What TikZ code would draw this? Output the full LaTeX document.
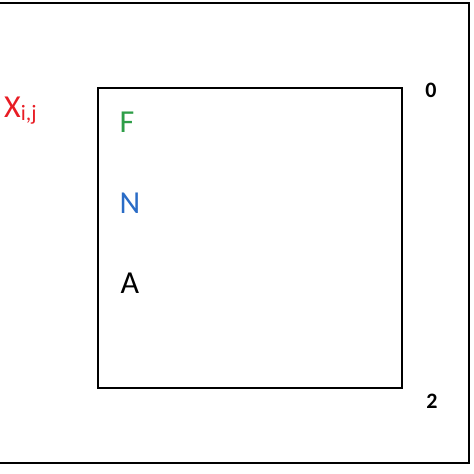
\documentclass[tikz,border=0pt]{standalone}
\usepackage{fontspec}
\setmainfont{Carlito}
\definecolor{xred}{HTML}{E81C24}
\definecolor{fgreen}{HTML}{2E9E48}
\definecolor{nblue}{HTML}{2A6CC6}
\begin{document}
\begin{tikzpicture}[x=1pt,y=-1pt,
  frame/.style={draw=black,line width=2pt},
  lbl/.style={inner sep=0pt,font=\fontsize{32}{36}\selectfont},
  num/.style={inner sep=0pt,font=\bfseries\fontsize{22}{24}\selectfont}]
\useasboundingbox (0,0) rectangle (474,474);
\begin{scope}
\clip (0,0) rectangle (474,474);
\draw[frame] (-20,3) rectangle (469,463);
\end{scope}
\node[frame,minimum width=304pt,minimum height=300pt,inner sep=0pt] (box) at (250,238) {};
\node[lbl,text=xred,anchor=base west] (x) at (4,117) {X\raisebox{-0.1em}{\fontsize{22}{24}\selectfont i,j}};
\node[lbl,text=fgreen,anchor=base] (f) at (127,132) {F};
\node[lbl,text=nblue,anchor=base] (n) at (130,213) {N};
\node[lbl,text=black,anchor=base] (a) at (130,293) {A};
\node[num,anchor=base] (z) at (431,97) {0};
\node[num,anchor=base] (t) at (432,408) {2};
\end{tikzpicture}
\end{document}
